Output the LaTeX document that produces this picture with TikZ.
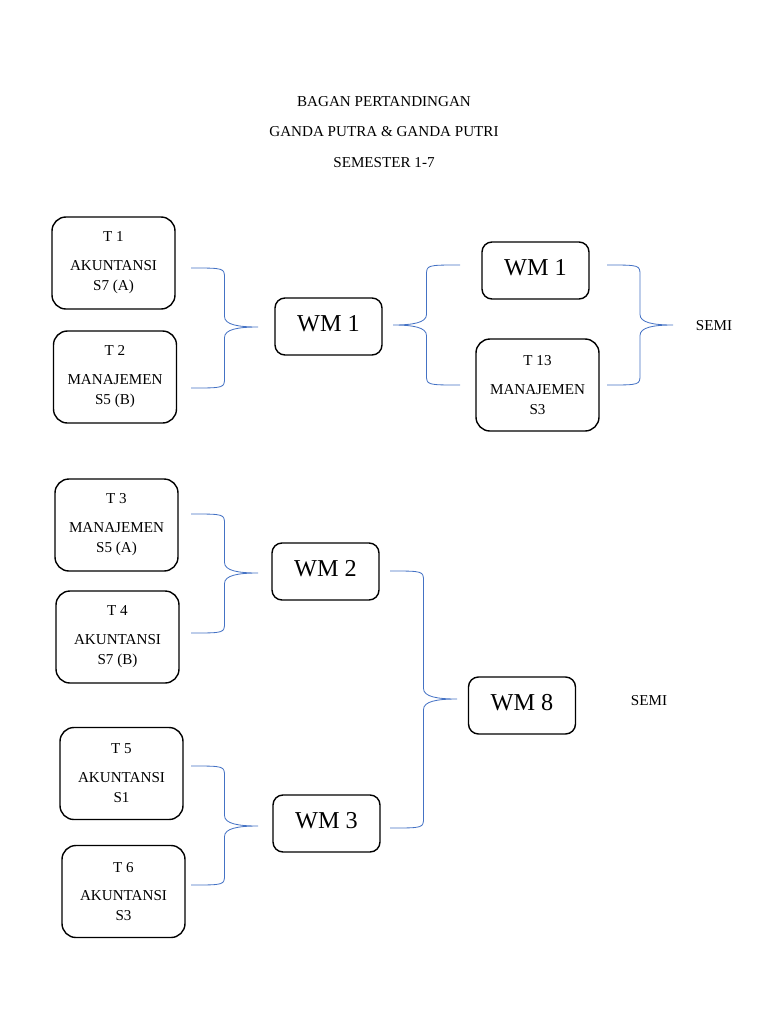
\documentclass[tikz,border=0pt]{standalone}
\usepackage{fontspec}
\setmainfont{Liberation Serif}
\usetikzlibrary{calc}
\definecolor{braceblue}{RGB}{68,114,196}
\tikzset{
  teambox/.style={draw=black, line width=1.2pt, rounded corners=0.42cm, minimum width=3.69cm, minimum height=2.76cm, align=center, inner sep=0pt, font=\fontsize{12.9}{17}\selectfont},
  wmbox/.style={draw=black, line width=1.2pt, rounded corners=0.3cm, minimum width=3.21cm, minimum height=1.71cm, inner sep=0pt, text depth=5pt, font=\fontsize{20.7}{24}\selectfont},
  plain/.style={font=\fontsize{12.9}{17}\selectfont, inner sep=0pt},
  brace/.style={draw=braceblue, line width=0.7pt}
}
\newcommand\bagbrace[3]{%
  \path[brace] let \p1=(#1), \p2=(#2), \p3=(#3), \p4=($(#1)!0.5!(#3)$) in
    (\x1,\y1) .. controls (\x4,\y1) .. (\x4,\y1-9pt) -- (\x4,\y3+9pt)
    .. controls (\x4,\y3+2pt) and ($(\x4,\y3)!0.4!(\x3,\y3)$) .. (\x3,\y3)
    .. controls ($(\x4,\y3)!0.4!(\x3,\y3)$) and (\x4,\y3-2pt) .. (\x4,\y3-9pt) -- (\x4,\y2+9pt)
    .. controls (\x4,\y2) .. (\x2,\y2);}
\begin{document}
\begin{tikzpicture}[x=0.03cm, y=-0.03cm]
\useasboundingbox (0,0) rectangle (768,1024);
% title
\node[plain] (title1) at (384,102) {BAGAN PERTANDINGAN};
\node[plain] (title2) at (384,132) {GANDA PUTRA \& GANDA PUTRI};
\node[plain] (title3) at (384,163) {SEMESTER 1-7};
% team boxes
\node[teambox] (t1) at (113.5,263) {T 1\\[7.7pt]AKUNTANSI\\S7 (A)};
\node[teambox] (t2) at (115,377) {T 2\\[7.7pt]MANAJEMEN\\S5 (B)};
\node[teambox] (t13) at (537.5,385) {T 13\\[7.7pt]MANAJEMEN\\S3};
\node[teambox] (t3) at (116.5,525) {T 3\\[7.7pt]MANAJEMEN\\S5 (A)};
\node[teambox] (t4) at (117.5,637) {T 4\\[7.7pt]AKUNTANSI\\S7 (B)};
\node[teambox] (t5) at (121.5,773.5) {T 5\\[7.7pt]AKUNTANSI\\S1};
\node[teambox] (t6) at (123.5,891.5) {T 6\\[7.7pt]AKUNTANSI\\S3};
% winner boxes
\node[wmbox] (wm1a) at (328.5,326.5) {WM 1};
\node[wmbox] (wm1b) at (535.5,270.5) {WM 1};
\node[wmbox] (wm2) at (325.5,571.5) {WM 2};
\node[wmbox] (wm3) at (326.5,823.5) {WM 3};
\node[wmbox] (wm8) at (522,705.5) {WM 8};
% semi labels
\node[plain] (semi1) at (714,326) {SEMI};
\node[plain] (semi2) at (649,701) {SEMI};
% brace end points
\coordinate (b1t) at (191,268); \coordinate (b1b) at (191,388); \coordinate (b1p) at (258,327);
\coordinate (b2t) at (460,265); \coordinate (b2b) at (460,385); \coordinate (b2p) at (393,325);
\coordinate (b3t) at (607,265); \coordinate (b3b) at (607,385); \coordinate (b3p) at (673,325);
\coordinate (b4t) at (191,514); \coordinate (b4b) at (191,633); \coordinate (b4p) at (258,573);
\coordinate (b5t) at (390,571); \coordinate (b5b) at (390,828); \coordinate (b5p) at (457,699);
\coordinate (b6t) at (191,766); \coordinate (b6b) at (191,885); \coordinate (b6p) at (258,826);
\bagbrace{b1t}{b1b}{b1p}
\bagbrace{b2t}{b2b}{b2p}
\bagbrace{b3t}{b3b}{b3p}
\bagbrace{b4t}{b4b}{b4p}
\bagbrace{b5t}{b5b}{b5p}
\bagbrace{b6t}{b6b}{b6p}
\end{tikzpicture}
\end{document}
